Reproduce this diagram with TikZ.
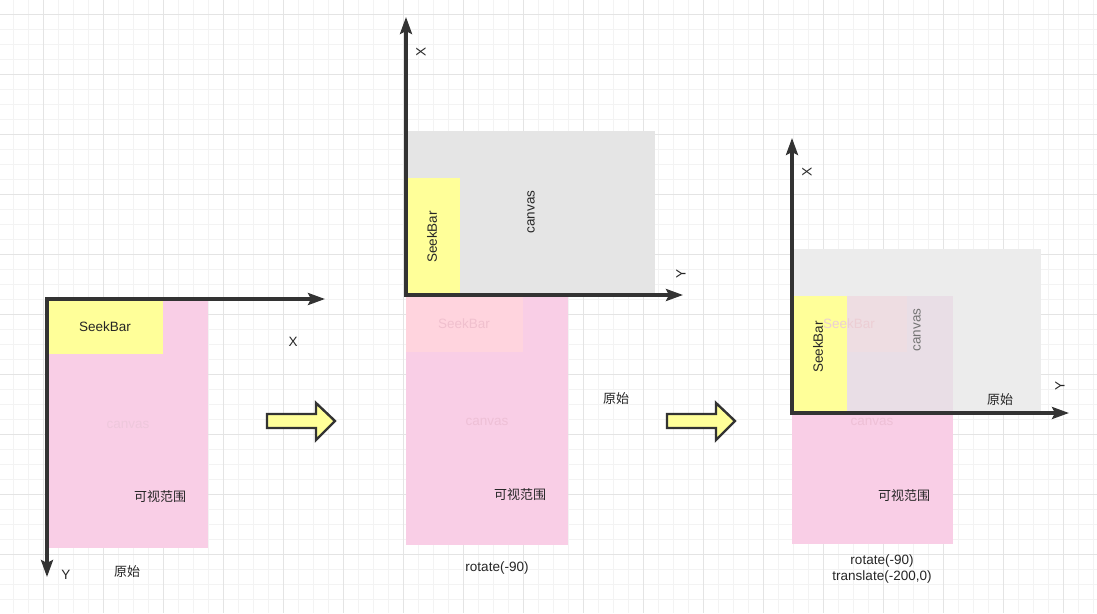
\documentclass[tikz,border=0pt]{standalone}
\usepackage{fontspec}
\setmainfont{Liberation Sans}
\newfontfamily\cjk{Noto Sans CJK SC}
\usetikzlibrary{arrows.meta}
\definecolor{pinkc}{RGB}{249,206,230}
\definecolor{yellowc}{RGB}{255,255,153}
\definecolor{grayc}{RGB}{229,229,229}
\definecolor{grayl}{RGB}{236,236,236}
\definecolor{mixc}{RGB}{233,222,230}
\definecolor{mixr}{RGB}{238,221,226}
\definecolor{seekp}{RGB}{255,212,222}
\definecolor{axisc}{RGB}{51,51,51}
\definecolor{gridmin}{RGB}{243,243,243}
\definecolor{gridmaj}{RGB}{228,228,228}
\definecolor{fcan}{RGB}{238,192,214}
\definecolor{fcanA}{RGB}{238,200,220}
\definecolor{fseek}{RGB}{240,192,206}
\definecolor{fseekB}{RGB}{236,206,212}
\begin{document}
\begin{tikzpicture}[x=1pt,y=-1pt,
  axis/.style={draw=axisc,line width=3.2pt,line join=miter,{Stealth[length=17pt,width=12pt,inset=3pt]}-{Stealth[length=17pt,width=12pt,inset=3pt]}},
  lbl/.style={font=\fontsize{13.5}{16}\selectfont,text=black!85,inner sep=0pt},
  cjkl/.style={font=\cjk\fontsize{13}{16}\selectfont,text=black!85,inner sep=0pt},
  faint/.style={lbl,text=#1},
  blockarrow/.style={fill=yellowc,draw=axisc,line width=2.4pt,line join=miter}]
\useasboundingbox (0,0) rectangle (1097,613);
\fill[white] (0,0) rectangle (1097,613);
% grid
\foreach \x in {13,28,...,1097} \draw[gridmin,line width=0.8pt] (\x,0) -- (\x,613);
\foreach \y in {14,29,...,613} \draw[gridmin,line width=0.8pt] (0,\y) -- (1097,\y);
\foreach \x in {43,103,...,1097} \draw[gridmaj,line width=1pt] (\x,0) -- (\x,613);
\foreach \y in {14,74,...,613} \draw[gridmaj,line width=1pt] (0,\y) -- (1097,\y);

% ---------- panel 1 ----------
\fill[pinkc] (48,299) rectangle (208,548);
\fill[yellowc] (48,299) rectangle (163,354);
\coordinate (o1) at (47,299);
\coordinate (x1) at (325,299);
\coordinate (y1) at (47,577);
\draw[axis] (x1) -- (o1) -- (y1);
\node[lbl] (seek1) at (105,327) {SeekBar};
\node[lbl] (xl1) at (293,342) {X};
\node[faint=fcanA] (can1) at (128,425) {canvas};
\node[cjkl] (vis1) at (160,497) {可视范围};
\node[lbl] (yl1) at (66,575) {Y};
\node[cjkl] (orig1) at (127,572) {原始};

% arrow 1
\draw[blockarrow] (267,414) -- (316,414) -- (316,403) -- (335,421) -- (316,440) -- (316,428) -- (267,428) -- cycle;

% ---------- panel 2 ----------
\fill[grayc] (406,131) rectangle (655,295);
\fill[yellowc] (406,178) rectangle (460,295);
\fill[pinkc] (406,295) rectangle (568,545);
\fill[seekp] (406,295) rectangle (523,352);
\coordinate (o2) at (406,295);
\coordinate (x2) at (406,17);
\coordinate (y2) at (683,295);
\draw[axis] (x2) -- (o2) -- (y2);
\node[lbl,rotate=90] (xl2) at (421,52) {X};
\node[lbl,rotate=90] (seek2) at (432,237) {SeekBar};
\node[lbl,rotate=90] (can2) at (531,212) {canvas};
\node[lbl,rotate=90] (yl2) at (681,274) {Y};
\node[faint=fseek] (seek2f) at (464,324) {SeekBar};
\node[faint=fcan] (can2f) at (487,422) {canvas};
\node[cjkl] (vis2) at (520,495) {可视范围};
\node[cjkl] (orig2) at (616,399) {原始};
\node[lbl] (rot2) at (497,568) {rotate(-90)};

% arrow 2
\draw[blockarrow] (667,414) -- (716,414) -- (716,403) -- (735,421) -- (716,440) -- (716,428) -- (667,428) -- cycle;

% ---------- panel 3 ----------
\fill[grayl] (792,249) rectangle (1041,411);
\fill[mixc] (847,296) rectangle (953,413);
\fill[mixr] (847,296) rectangle (907,352);
\fill[yellowc] (792,296) rectangle (847,413);
\fill[pinkc] (792,413) rectangle (953,544);
\coordinate (o3) at (792,413);
\coordinate (x3) at (792,138);
\coordinate (y3) at (1069,413);
\draw[axis] (x3) -- (o3) -- (y3);
\node[lbl,rotate=90] (xl3) at (807,172) {X};
\node[lbl,rotate=90] (seek3) at (818,347) {SeekBar};
\node[lbl,rotate=90,text=black!55] (can3) at (917,330) {canvas};
\node[faint=fseekB] (seek3f) at (849,324) {SeekBar};
\node[lbl,rotate=90] (yl3) at (1060,386) {Y};
\node[cjkl] (orig3) at (1000,400) {原始};
\node[faint=fcan] (can3f) at (872,422) {canvas};
\node[cjkl] (vis3) at (904,496) {可视范围};
\node[lbl] (rot3) at (882,561) {rotate(-90)};
\node[lbl] (tr3) at (882,577) {translate(-200,0)};
\end{tikzpicture}
\end{document}
